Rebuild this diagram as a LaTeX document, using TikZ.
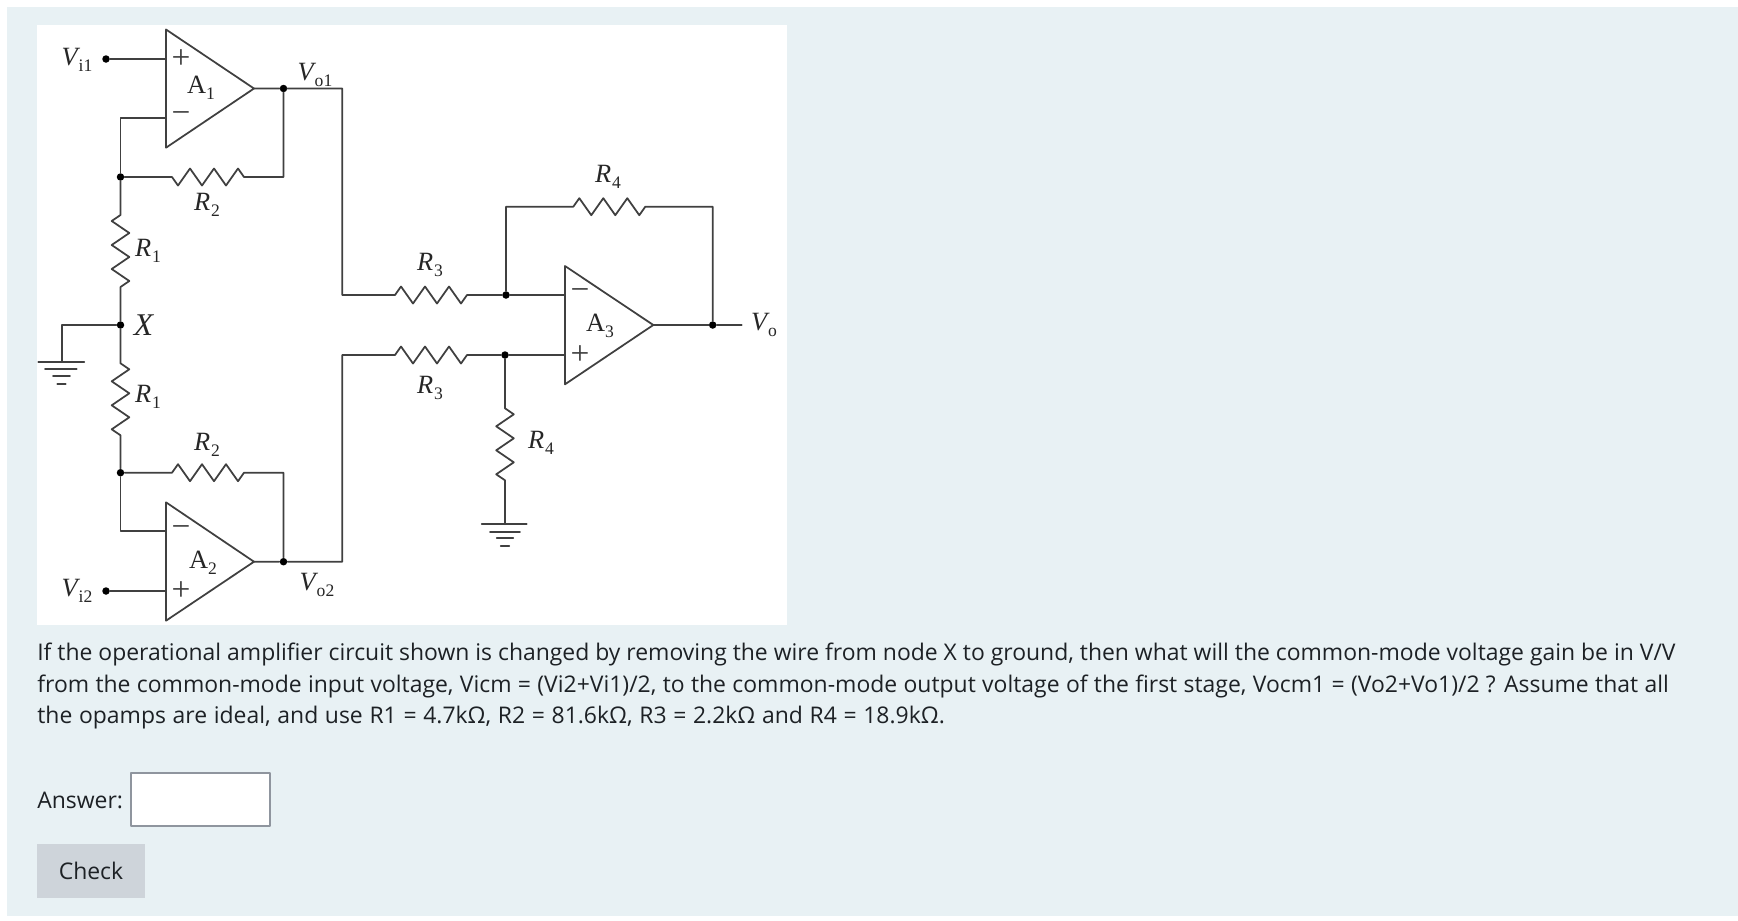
\documentclass[tikz,border=0pt]{standalone}
\usepackage{fontspec}
\setmainfont{Open Sans}
\newfontfamily\circfont{Liberation Serif}
\definecolor{panelcol}{HTML}{E8F1F4}
\definecolor{wirecol}{HTML}{404040}
\definecolor{bodycol}{HTML}{1D2125}
\definecolor{btncol}{HTML}{CED4DA}
\definecolor{boxcol}{HTML}{8F959E}
\newcommand{\subtxt}[1]{\raisebox{-0.22em}{\fontsize{10}{10}\selectfont #1}}
\newcommand{\labv}[2]{\textit{#1}\kern-0.06em\subtxt{#2}}
\newcommand{\labr}[2]{\textit{#1}\kern0.03em\subtxt{#2}}
% zigzags of three periods, #1 = +1 or -1 picks the first side
\newcommand{\zigh}[1]{-- ++(6,#1*8.5) -- ++(12,-#1*17) -- ++(12,#1*17) -- ++(12,-#1*17) -- ++(12,#1*17) -- ++(12,-#1*17) -- ++(6,#1*8.5)}
\newcommand{\zigv}[1]{-- ++(#1*8.8,6) -- ++(-#1*17.6,12) -- ++(#1*17.6,12) -- ++(-#1*17.6,12) -- ++(#1*17.6,12) -- ++(-#1*17.6,12) -- ++(#1*8.8,6)}
\tikzset{
  wire/.style={draw=wirecol,line width=1pt},
  dotnode/.style={circle,fill=black,inner sep=0pt,minimum size=0.15cm},
  lbl/.style={text=black!85,inner sep=0pt,font=\circfont\fontsize{15}{16}\selectfont},
  sign/.style={text=wirecol,inner sep=0pt,font=\circfont\fontsize{19}{19}\selectfont},
  line/.style={text=bodycol,anchor=west,inner sep=0pt,font=\fontsize{13.05}{15}\selectfont}
}
\begin{document}
\begin{tikzpicture}[line cap=round,line join=round,x=0.02cm,y=-0.02cm]
\useasboundingbox (0,0) rectangle (1738,920);
% panels
\fill[panelcol] (7,7) rectangle (1738,916);
\fill[white] (37,25) rectangle (787,625);
% first opamp
\coordinate (a1t) at (166,29.5);
\coordinate (a1b) at (166,147.7);
\coordinate (a1o) at (254,88.5);
\coordinate (a1p) at (166,59);
\coordinate (a1m) at (166,117.7);
\draw[wire] (a1t)--(a1o)--(a1b)--cycle;
% second opamp
\coordinate (a2t) at (166,502.3);
\coordinate (a2b) at (166,620.7);
\coordinate (a2o) at (254,561.7);
\coordinate (a2m) at (166,531);
\coordinate (a2p) at (166,591);
\draw[wire] (a2t)--(a2o)--(a2b)--cycle;
% third opamp
\coordinate (a3t) at (565,266);
\coordinate (a3b) at (565,384.3);
\coordinate (a3o) at (653.3,325);
\draw[wire] (a3t)--(a3o)--(a3b)--cycle;
\coordinate (a3m) at (565,295);
\coordinate (a3p) at (565,355);
% junctions
\node[dotnode] (vi1) at (106,59) {};
\node[dotnode] (vi2) at (106,591) {};
\node[dotnode] (fb1) at (120.5,177) {};
\node[dotnode] (fb2) at (120.5,472.7) {};
\node[dotnode] (nx) at (120.5,325) {};
\node[dotnode] (vo1) at (283.5,88.5) {};
\node[dotnode] (vo2) at (283.5,561.7) {};
\node[dotnode] (inm) at (506,295) {};
\node[dotnode] (inp) at (505,355) {};
\node[dotnode] (vo) at (712.7,325) {};
% corners and ends
\coordinate (c1) at (120.5,117.7);
\coordinate (c2) at (120.5,531);
\coordinate (c3) at (283.5,177);
\coordinate (c4) at (283.5,472.7);
\coordinate (c5) at (342.3,88.5);
\coordinate (c6) at (342.3,295);
\coordinate (c7) at (342.3,561.7);
\coordinate (c8) at (342.3,355);
\coordinate (c9) at (506,206.7);
\coordinate (c10) at (712.7,206.7);
\coordinate (voe) at (741.7,325);
\coordinate (gx1) at (61.7,325);
\coordinate (g1) at (61.7,361.7);
\coordinate (g2) at (505,524.3);
% resistor ends
\coordinate (r2a) at (172,177);
\coordinate (r2c) at (172,472.7);
\coordinate (r1a) at (120.5,215);
\coordinate (r1c) at (120.5,363.3);
\coordinate (r3a) at (395,295);
\coordinate (r3c) at (395,355);
\coordinate (r4a) at (573.3,206.7);
\coordinate (r4c) at (505,408.3);
% wires
\draw[wire] (vi1)--(a1p);
\draw[wire] (vi2)--(a2p);
\draw[wire] (a1m)--(c1)--(fb1);
\draw[wire] (a2m)--(c2)--(fb2);
\draw[wire] (fb1)--(r2a) \zigh{1} --(c3)--(vo1);
\draw[wire] (fb2)--(r2c) \zigh{-1} --(c4)--(vo2);
\draw[wire] (fb1)--(r1a) \zigv{-1} --(nx);
\draw[wire] (nx)--(r1c) \zigv{1} --(fb2);
\draw[wire] (nx)--(gx1)--(g1);
\draw[wire] (a1o)--(vo1)--(c5)--(c6)--(r3a) \zigh{-1} --(inm)--(a3m);
\draw[wire] (a2o)--(vo2)--(c7)--(c8)--(r3c) \zigh{-1} --(inp)--(a3p);
\draw[wire] (inm)--(c9)--(r4a) \zigh{-1} --(c10)--(vo);
\draw[wire] (a3o)--(vo)--(voe);
\draw[wire] (inp)--(r4c) \zigv{1} --(g2);
% grounds
\draw[wire] (38.3,361.7)--(84.3,361.7);
\draw[wire] (45,369.3)--(76.7,369.3);
\draw[wire] (53,376)--(70,376);
\draw[wire] (57.3,384)--(65.7,384);
\draw[wire] (481.7,524.3)--(526.7,524.3);
\draw[wire] (490,531.7)--(520,531.7);
\draw[wire] (496.7,538.3)--(513.3,538.3);
\draw[wire] (500.7,546)--(509.3,546);
% signs
\node[sign] (p1) at (181,59) {+};
\node[sign] (m1) at (181,118) {−};
\node[sign] (m2) at (181,531.7) {−};
\node[sign] (p2) at (181,591) {+};
\node[sign] (m3) at (580,295) {−};
\node[sign] (p3) at (580,355) {+};
% labels
\node[lbl] (lvi1) at (77,60) {\labv{V}{i1}};
\node[lbl] (lvi2) at (77,591) {\labv{V}{i2}};
\node[lbl] (lvo1) at (315,75) {\labv{V}{o1}};
\node[lbl] (lvo2) at (317,585) {\labv{V}{o2}};
\node[lbl] (lvo) at (764,325) {\labv{V}{o}};
\node[lbl] (la1) at (201,88) {A\subtxt{1}};
\node[lbl] (la2) at (203,563) {A\subtxt{2}};
\node[lbl] (la3) at (600,326) {A\subtxt{3}};
\node[lbl] (lr2a) at (207,205) {\labr{R}{2}};
\node[lbl] (lr2b) at (207,445) {\labr{R}{2}};
\node[lbl] (lr1a) at (148,251) {\labr{R}{1}};
\node[lbl] (lr1b) at (148,397) {\labr{R}{1}};
\node[lbl,font=\circfont\fontsize{18}{18}\selectfont] (lx) at (144,325) {\textit{X}};
\node[lbl] (lr3a) at (430,265) {\labr{R}{3}};
\node[lbl] (lr3b) at (430,388) {\labr{R}{3}};
\node[lbl] (lr4a) at (608,177) {\labr{R}{4}};
\node[lbl] (lr4b) at (541,443) {\labr{R}{4}};
% question text
\node[line] (q1) at (37,654) {If the operational amplifier circuit shown is changed by removing the wire from node X to ground, then what will the common-mode voltage gain be in V/V};
\node[line] (q2) at (37,686) {\spaceskip=3.62pt from the common-mode input voltage, Vicm = (Vi2+Vi1)/2, to the common-mode output voltage of the first stage, Vocm1 = (Vo2+Vo1)/2 ? Assume that all};
\node[line] (q3) at (37,718) {\spaceskip=3.8pt the opamps are ideal, and use R1 = 4.7kΩ, R2 = 81.6kΩ, R3 = 2.2kΩ and R4 = 18.9kΩ.};
\node[line] (ans) at (37,800) {Answer:};
\draw[draw=boxcol,fill=white,line width=0.85pt,line cap=butt] (131,773) rectangle (270,826);
\fill[btncol] (37,844) rectangle (145,898);
\node[text=bodycol,inner sep=0pt,font=\fontsize{13.05}{15}\selectfont] (chk) at (91,871) {Check};
\end{tikzpicture}
\end{document}
